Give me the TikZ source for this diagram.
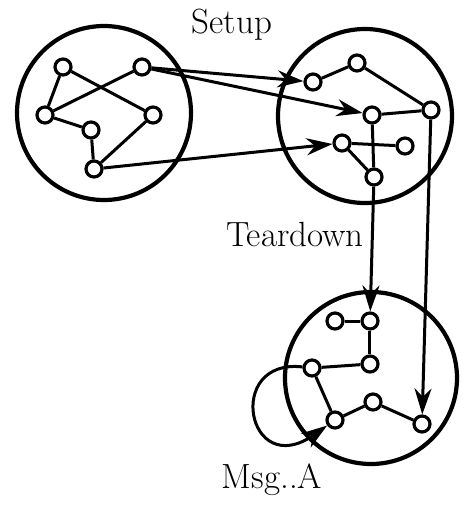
\documentclass[tikz,border=0pt]{standalone}
\usepackage{tikz}
\usetikzlibrary{arrows.meta}

\begin{document}
\begin{tikzpicture}[x=0.5pt,y=0.5pt]
        \tikzstyle{every node}+=[inner sep=0pt]
        \tikzstyle{vertex}=[circle,draw=black,line width=1.6pt,minimum size=8pt]
        \tikzstyle{edge}=[black,line width=1.5pt]
        \tikzstyle{msg}=[black,line width=1.5pt,-{Stealth[length=13pt,width=8.5pt]}]
        \tikzstyle{label}=[font=\fontsize{17.5}{21}\selectfont,anchor=base]
        \useasboundingbox (0,0) rectangle (474,-516);
        \draw [black,line width=2.1pt] (104,-113) circle (87);
        \draw [black,line width=2.1pt] (365,-116) circle (87);
        \draw [black,line width=2.1pt] (371,-378) circle (86);
        \node [vertex] (a) at (63,-67) {};
        \node [vertex] (b) at (142,-67) {};
        \node [vertex] (c) at (45,-115) {};
        \node [vertex] (d) at (153,-115) {};
        \node [vertex] (e) at (91,-130) {};
        \node [vertex] (f) at (94,-169) {};
        \node [vertex] (g) at (313,-82) {};
        \node [vertex] (h) at (357,-63) {};
        \node [vertex] (i) at (372,-115) {};
        \node [vertex] (j) at (431,-110) {};
        \node [vertex] (k) at (342,-143) {};
        \node [vertex] (l) at (405,-146) {};
        \node [vertex] (m) at (374,-177) {};
        \node [vertex] (n) at (335,-321) {};
        \node [vertex] (o) at (370,-321) {};
        \node [vertex] (p) at (370,-364) {};
        \node [vertex] (q) at (312,-368) {};
        \node [vertex] (r) at (373,-402) {};
        \node [vertex] (s) at (335,-420) {};
        \node [vertex] (t) at (422,-424) {};
        \draw [edge] (a) -- (d);
        \draw [edge] (a) -- (c);
        \draw [edge] (b) -- (c);
        \draw [edge] (c) -- (e);
        \draw [edge] (e) -- (f);
        \draw [edge] (f) -- (d);
        \draw [edge] (g) -- (h);
        \draw [edge] (h) -- (j);
        \draw [edge] (i) -- (j);
        \draw [edge] (i) -- (m);
        \draw [edge] (k) -- (l);
        \draw [edge] (k) -- (m);
        \draw [edge] (n) -- (o);
        \draw [edge] (o) -- (p);
        \draw [edge] (p) -- (q);
        \draw [edge] (q) -- (s);
        \draw [edge] (s) -- (r);
        \draw [edge] (r) -- (t);
        \draw [msg] (b) -- (g);
        \draw [msg] (b) -- (i);
        \draw [msg] (f) -- (k);
        \draw [msg] (m) -- (o);
        \draw [msg] (j) -- (t);
        \draw [msg] (q) .. controls +(-88,10) and +(-88,-62) .. (s);
        \node [label] (setup) at (232,-33) {Setup};
        \node [label] (teardown) at (295,-246) {Teardown};
        \node [label] (msga) at (272,-488) {Msg..A};
\end{tikzpicture}
\end{document}
